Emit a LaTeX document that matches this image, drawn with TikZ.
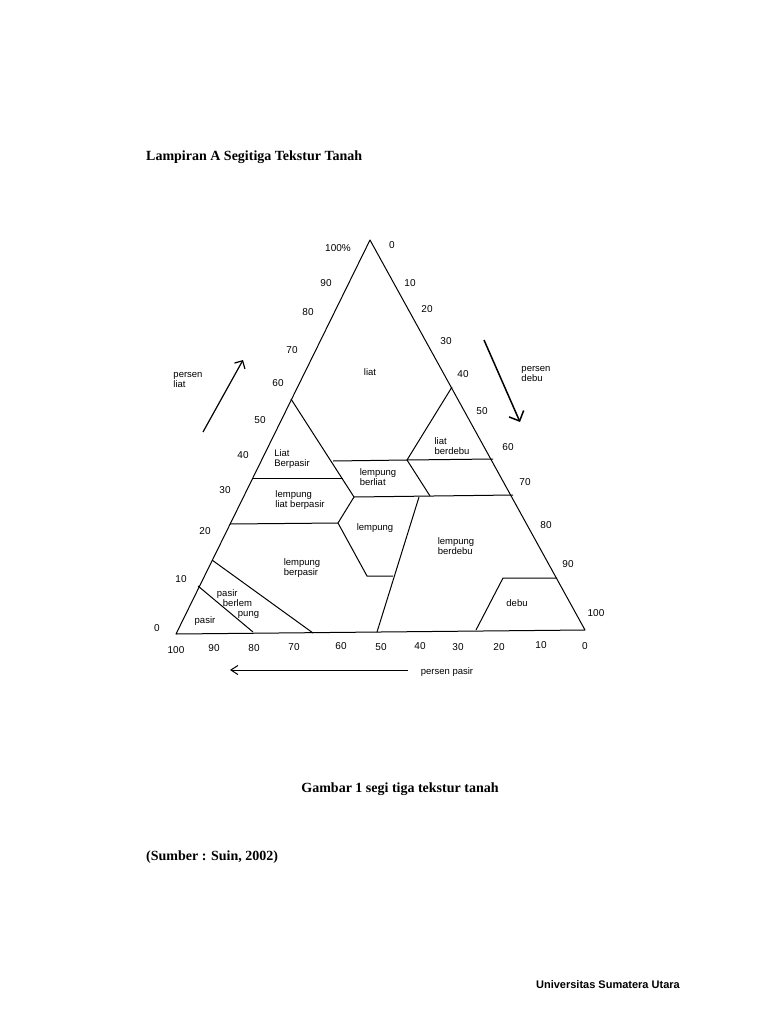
\documentclass[tikz,border=0pt]{standalone}
\usepackage{fontspec}
\setmainfont{Liberation Serif}
\newfontfamily\dsans{Liberation Sans}
\usetikzlibrary{arrows.meta}
\begin{document}
\begin{tikzpicture}[x=1pt,y=-1pt,
  ln/.style={line width=1pt,black},
  lab/.style={font=\dsans\fontsize{9.5}{10}\selectfont,inner sep=0pt,align=left},
  num/.style={font=\dsans\fontsize{10}{10}\selectfont,inner sep=0pt},
  ttl/.style={font=\bfseries\fontsize{14}{16}\selectfont,inner sep=0pt,anchor=west}]
\useasboundingbox (0,0) rectangle (768,1024);
\fill[white] (0,0) rectangle (768,1024);
% triangle
\coordinate (T) at (370,240); \coordinate (L) at (176,634); \coordinate (R) at (585,630);
\draw[ln,line join=round] (T) -- (L) -- (R) -- cycle;
% regions
\draw[ln] (291,399) -- (354,497);
\draw[ln] (252,478) -- (343,478);
\draw[ln] (333,461) -- (407,460) -- (493,459);
\draw[ln] (452,387) -- (407,460) -- (430,496);
\draw[ln] (354,497) -- (513,495);
\draw[ln] (419,497) -- (377,632);
\draw[ln] (354,497) -- (338,523) -- (367,576) -- (393,576);
\draw[ln] (230,524) -- (338,523);
\draw[ln] (212,560) -- (313,633);
\draw[ln] (198,586) -- (253,632);
\draw[ln] (476,630) -- (503,578) -- (557,578);
% region labels
\node[lab] (a1) at (370,372) {liat};
\node[lab] (a2) at (292,459) {Liat\\Berpasir};
\node[lab] (a3) at (300,500) {lempung\\liat berpasir};
\node[lab] (a4) at (378,477) {lempung\\berliat};
\node[lab] (a5) at (452,446) {liat\\berdebu};
\node[lab] (a6) at (375,528) {lempung};
\node[lab] (a7) at (456,546) {lempung\\berdebu};
\node[lab] (a8) at (302,568) {lempung\\berpasir};
\node[lab] (a9) at (238,604) {pasir\\\hspace*{6pt}berlem\\\hspace*{21pt}pung};
\node[lab] (a10) at (205,621) {pasir};
\node[lab] (a11) at (517,603) {debu};
% left numbers
\node[num] (l0) at (338,248) {100\%};
\node[num] (l1) at (326,283) {90};
\node[num] (l2) at (308,312) {80};
\node[num] (l3) at (292,350) {70};
\node[num] (l4) at (278,383) {60};
\node[num] (l5) at (260,420) {50};
\node[num] (l6) at (243,455) {40};
\node[num] (l7) at (225,490) {30};
\node[num] (l8) at (205,531) {20};
\node[num] (l9) at (181,579) {10};
\node[num] (l10) at (157,628) {0};
% right numbers
\node[num] (r0) at (392,245) {0};
\node[num] (r1) at (410,283) {10};
\node[num] (r2) at (427,309) {20};
\node[num] (r3) at (446,341) {30};
\node[num] (r4) at (463,374) {40};
\node[num] (r5) at (482,411) {50};
\node[num] (r6) at (508,447) {60};
\node[num] (r7) at (525,482) {70};
\node[num] (r8) at (546,525) {80};
\node[num] (r9) at (568,564) {90};
\node[num] (r10) at (596,613) {100};
% bottom numbers
\node[num] (b0) at (176,650) {100};
\node[num] (b1) at (214,648) {90};
\node[num] (b2) at (254,648) {80};
\node[num] (b3) at (294,647) {70};
\node[num] (b4) at (341,646) {60};
\node[num] (b5) at (381,647) {50};
\node[num] (b6) at (420,646) {40};
\node[num] (b7) at (458,647) {30};
\node[num] (b8) at (499,647) {20};
\node[num] (b9) at (541,645) {10};
\node[num] (b10) at (585,646) {0};
% axis titles and arrows
\node[lab] (pl) at (188,380) {persen\\liat};
\node[lab] (pd) at (536,374) {persen\\debu};
\node[lab] (pp) at (447,672) {persen pasir};
\coordinate (la1) at (203,432); \coordinate (la2) at (243,360);
\draw[line width=1.2pt,-{Straight Barb[length=6pt]}] (la1) -- (la2);
\coordinate (ra1) at (484,340); \coordinate (ra2) at (520,422);
\draw[line width=1.5pt,-{Straight Barb[length=8pt]}] (ra1) -- (ra2);
\coordinate (ba1) at (408,670); \coordinate (ba2) at (230,670);
\draw[line width=1pt,-{Straight Barb[length=7pt,width=9pt]}] (ba1) -- (ba2);
% texts
\node[ttl] (t1) at (146,157) {Lampiran A Segitiga Tekstur Tanah};
\node[ttl,anchor=center] (t2) at (400,789) {Gambar 1 segi tiga tekstur tanah};
\node[ttl] (t3) at (146,857) {(Sumber : Suin, 2002)};
\node[font=\dsans\bfseries\fontsize{11}{12}\selectfont,inner sep=0pt,anchor=east] (t4) at (680,985) {Universitas Sumatera Utara};
\end{tikzpicture}
\end{document}
